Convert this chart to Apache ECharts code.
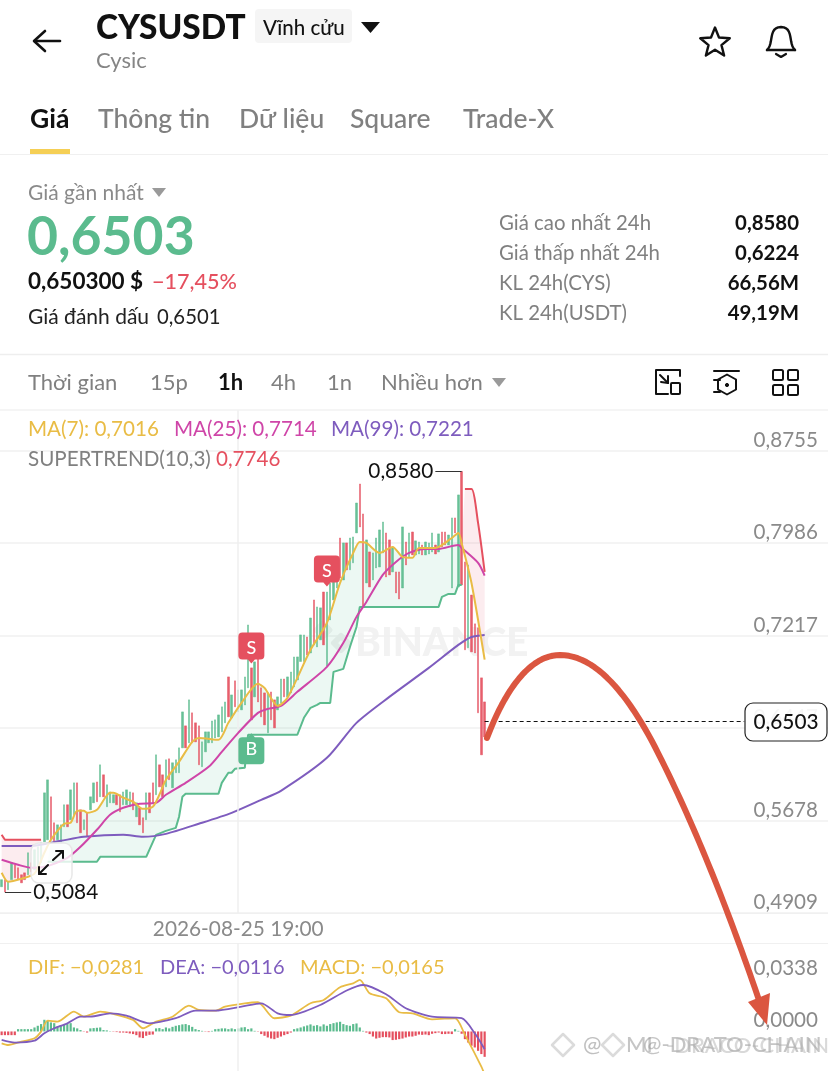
<!DOCTYPE html>
<html><head><meta charset="utf-8"><title>CYSUSDT</title>
<style>html,body{margin:0;padding:0;background:#fff}#c{width:828px;height:1071px}</style>
<script src="https://cdn.jsdelivr.net/npm/echarts@6/dist/echarts.min.js"></script></head>
<body><div id="c"></div>
<script>
// ---- candles, oldest first ----
const candleUp=[1,0,1,1,0,0,0,0,1,0,1,1,1,1,1,0,0,1,1,1,0,1,1,0,0,1,0,1,1,0,1,0,1,1,1,0,0,1,1,1,0,1,0,0,1,0,0,1,0,0,1,0,1,1,1,1,0,1,0,0,0,1,1,1,1,1,1,1,1,0,1,0,1,1,1,1,0,1,0,0,0,1,0,0,1,1,0,1,1,1,1,1,1,0,1,0,1,1,0,1,1,1,1,0,1,0,1,1,1,0,0,1,0,1,1,1,1,0,0,1,0,0,1,0,1,0,1,1,0,1,1,1,0,1,0,0,1,1,0,1,0,0,1,0,0,0,0,0];
const candleHigh=[.5186,.5186,.5169,.5327,.5310,.5285,.5227,.5243,.5410,.5327,.5435,.5460,.5493,.5908,.6016,.5875,.5659,.5642,.5642,.5809,.5809,.5933,.5991,.5991,.5767,.5684,.5742,.5875,.5991,.5999,.6141,.6058,.5975,.5916,.5892,.5892,.5892,.5916,.5933,.5916,.5908,.5825,.5784,.5701,.5908,.5908,.5991,.6224,.6141,.6058,.6183,.6191,.6158,.6183,.6282,.6581,.6465,.6681,.6573,.6490,.6465,.6332,.6415,.6415,.6506,.6515,.6556,.6623,.6664,.6872,.6722,.6839,.6764,.6764,.6872,.7304,.6947,.6997,.7030,.6781,.6739,.6739,.6747,.6681,.6706,.6855,.6855,.6872,.6913,.7038,.7038,.7221,.7221,.7204,.7362,.7512,.7454,.7446,.7578,.7578,.7653,.7678,.7786,.8027,.7986,.7986,.8027,.8036,.8318,.8476,.8227,.8011,.7911,.7903,.8027,.8094,.8160,.8069,.8011,.7944,.7745,.7745,.8119,.7994,.8069,.8077,.8003,.7994,.7969,.7994,.7986,.8069,.7969,.8061,.8077,.8077,.8052,.8194,.8194,.8385,.8580,.7828,.7803,.7553,.7313,.7280,.6864,.6664];
const candleLow=[.5127,.5084,.5103,.5186,.5202,.5186,.5160,.5186,.5227,.5252,.5269,.5285,.5327,.5501,.5518,.5518,.5501,.5518,.5501,.5626,.5626,.5684,.5725,.5659,.5576,.5601,.5543,.5767,.5825,.5834,.5875,.5875,.5792,.5825,.5825,.5809,.5750,.5809,.5809,.5792,.5767,.5709,.5642,.5576,.5684,.5742,.5825,.5892,.5958,.5875,.5958,.6017,.5950,.6075,.6075,.6282,.6282,.6324,.6324,.6332,.6141,.6125,.6249,.6324,.6324,.6365,.6373,.6415,.6490,.6540,.6531,.6623,.6581,.6598,.6639,.6781,.6515,.6706,.6664,.6540,.6473,.6407,.6515,.6448,.6598,.6656,.6706,.6706,.6739,.6789,.6847,.7000,.7000,.7055,.7071,.7138,.7121,.7180,.7138,.6963,.7346,.7512,.7611,.7695,.7678,.7762,.7762,.7820,.8069,.8119,.7454,.7653,.7620,.7678,.7778,.7786,.7903,.7703,.7720,.7745,.7570,.7520,.7611,.7803,.7870,.7886,.7886,.7894,.7886,.7886,.7894,.7911,.7894,.7911,.7953,.7969,.7969,.7611,.8069,.7620,.7636,.7097,.7114,.7080,.7071,.6573,.6224,.6373];
// ---- moving averages, supertrend, [candle index, price] read at the line's vertices ----
const ma7=[[0,.5244],[2,.5169],[6,.5194],[10,.5236],[13,.5410],[15,.5518],[19,.5651],[21,.5659],[23,.5759],[25,.5759],[26,.5742],[29,.5767],[33,.5908],[34,.5908],[37,.5867],[40,.5834],[43,.5775],[46,.5792],[48,.5892],[50,.6017],[54,.6166],[58,.6332],[60,.6365],[66,.6349],[69,.6490],[73,.6656],[78,.6814],[80,.6781],[84,.6631],[87,.6698],[94,.7097],[99,.7321],[103,.7653],[107,.7903],[109,.7994],[111,.7986],[115,.7903],[119,.7953],[122,.7870],[125,.7862],[127,.7944],[132,.7944],[137,.8027],[139,.8069],[140,.7986],[143,.7653],[147,.7016]];
const ma25=[[0,.5352],[5,.5310],[9,.5285],[13,.5293],[20,.5368],[24,.5459],[29,.5601],[33,.5725],[37,.5784],[42,.5817],[47,.5825],[50,.5892],[56,.5991],[63,.6124],[67,.6249],[72,.6407],[78,.6573],[81,.6606],[85,.6631],[90,.6748],[99,.6955],[104,.7155],[108,.7371],[111,.7495],[116,.7720],[120,.7828],[124,.7903],[129,.7936],[133,.7936],[139,.7969],[140,.7944],[145,.7820],[147,.7714]];
const ma99=[[0,.5467],[9,.5467],[18,.5509],[25,.5542],[37,.5559],[43,.5542],[50,.5567],[60,.5651],[70,.5742],[79,.5850],[85,.5925],[99,.6199],[108,.6490],[118,.6706],[130,.6947],[139,.7138],[143,.7204],[147,.7221]];
const trendUp=[[14,.5335],[29,.5335],[30,.5376],[44,.5376],[47,.5559],[50,.5592],[53,.5617],[54,.5709],[55,.5875],[56,.5900],[66,.5900],[67,.5991],[69,.6075],[70,.6075],[71,.6108],[74,.6116],[75,.6391],[90,.6391],[92,.6532],[94,.6615],[96,.6640],[97,.6656],[100,.6656],[101,.6914],[104,.6939],[106,.7121],[108,.7287],[109,.7454],[133,.7454],[134,.7537],[136,.7562],[138,.7562],[139,.7637],[140,.7637]];
const trendDownLeft=[[0,.5559],[1,.5518],[12,.5518]];
const trendDownRight=[[141,.8434],[143,.8434],[145,.8152],[147,.7746]];
// ---- MACD ----
const dif=[[0,-.0077],[2,-.0088],[6,-.0066],[10,-.0044],[12,-.0001],[14,.0070],[17,.0064],[22,.0129],[25,.0096],[30,.0129],[34,.0114],[40,.0075],[43,.0021],[47,.0064],[52,.0096],[57,.0168],[60,.0140],[65,.0135],[68,.0161],[74,.0183],[78,.0190],[83,.0086],[88,.0103],[94,.0183],[98,.0205],[103,.0287],[107,.0313],[109,.0335],[112,.0248],[117,.0216],[121,.0125],[125,.0118],[131,.0079],[138,.0086],[141,-.0022],[146,-.0228],[147,-.0281]];
const dea=[[0,-.0055],[4,-.0072],[10,-.0060],[13,-.0012],[16,.0021],[20,.0053],[24,.0096],[27,.0096],[33,.0118],[38,.0103],[45,.0053],[53,.0086],[59,.0135],[65,.0135],[73,.0161],[79,.0183],[84,.0118],[88,.0107],[97,.0172],[105,.0266],[110,.0302],[117,.0242],[123,.0151],[131,.0096],[140,.0086],[144,-.0012],[147,-.0116]];
const macdBars=[-.0024,-.0024,-.0024,-.0024,-.0024,.0015,.0015,.0015,.0015,.0015,.0026,.0037,.0048,.0076,.0069,.0059,.0054,.0033,.0041,.0048,.0048,.0054,.0026,.0020,.0009,-.0002,-.0007,.0020,.0022,.0024,.0026,.0009,.0007,.0002,-.0002,-.0004,-.0007,-.0007,-.0009,-.0013,-.0017,-.0024,-.0039,-.0043,-.0028,-.0022,-.0020,.0020,.0022,.0015,.0026,.0020,.0030,.0037,.0041,.0046,.0048,.0041,.0030,.0015,.0009,.0004,-.0002,-.0004,.0004,.0015,.0017,.0020,.0020,.0015,.0020,.0015,.0020,.0026,.0028,.0015,.0020,.0004,-.0002,-.0017,-.0028,-.0039,-.0046,-.0050,-.0041,-.0033,-.0024,-.0017,-.0007,.0015,.0020,.0026,.0033,.0039,.0046,.0037,.0041,.0033,.0046,.0037,.0048,.0054,.0059,.0063,.0048,.0041,.0037,.0048,.0052,.0026,.0004,-.0007,-.0017,-.0033,-.0046,-.0041,-.0037,-.0037,-.0039,-.0056,-.0054,-.0050,-.0046,-.0039,-.0033,-.0033,-.0028,-.0020,-.0022,-.0020,-.0024,-.0015,-.0011,-.0007,-.0017,-.0017,-.0015,-.0017,.0015,.0004,-.0015,-.0050,-.0072,-.0093,-.0104,-.0126,-.0147,-.0165];
// ---- axes ----
const priceTicks=[.4909,.5678,.6447,.7217,.7986,.8755];
const macdTicks=[0,.0338];
const categoryCount=252, dateTickIndex=72, dateTickLabel='2026-08-25 19:00';
const lastPrice=.6503, highMark=[140,.8580,'0,8580'], lowMark=[1,.5084,'0,5084'];
const sellMarks=[[76,.7113],[99,.7753]], buyMarks=[[76,.6274]];
// ---- text ----
const fontFamily='Lato,"Noto Sans",sans-serif';
const GREEN='#5BBB8E',RED='#E5505F',YEL='#E9BC45',MAG='#CF45A8',PUR='#7E5CBE',GREY='#858585';
const tabs=[['Giá',30],['Thông tin',98],['Dữ liệu',239],['Square',350],['Trade-X',463]];
const statLabels=['Giá cao nhất 24h','Giá thấp nhất 24h','KL 24h(CYS)','KL 24h(USDT)'];
const statValues=['0,8580','0,6224','66,56M','49,19M'];
const periods=[['Thời gian',28,0],['15p',150,0],['1h',218,1],['4h',271,0],['1n',327,0],['Nhiều hơn',381,0]];

const categories=Array.from({length:categoryCount},(_,i)=>i===dateTickIndex?dateTickLabel:String(i));
const comma=(v)=>v.toFixed(4).replace('.',',');
const candles=candleHigh.map((h,i)=>{const l=candleLow[i];return candleUp[i]?[l,h,l,h]:[h,l,l,h];});

function T(text,x,y,size,fill,weight,align,z){return {type:'text',x,y:y+1,z:z===undefined?50:z,silent:true,style:{text,fill,font:(weight||400)+' '+size+'px '+fontFamily,textAlign:align||'left',textVerticalAlign:'middle',align:align||'left',verticalAlign:'middle'}};}
function R(x,y,w,h,fill,r,stroke,z,lw){return {type:'rect',z:z||40,silent:true,shape:{x,y,width:w,height:h,r:r||0},style:{fill:fill||'none',stroke:stroke||null,lineWidth:lw||1}};}
function PP(d,stroke,lw,fill,z){return {type:'polyline',z:z||50,silent:true,shape:{points:d},style:{stroke:stroke||null,lineWidth:lw||0,fill:fill||'none',lineCap:'round',lineJoin:'round'}};}
function Poly(pts,fill,stroke,lw,z){return {type:'polygon',z:z===undefined?50:z,silent:true,shape:{points:pts},style:{fill:fill||'none',stroke:stroke||null,lineWidth:lw||0,lineJoin:'round'}};}
function L(x1,y1,x2,y2,c,w,z){return {type:'line',z:z||40,silent:true,shape:{x1,y1,x2,y2},style:{stroke:c,lineWidth:w||1,lineCap:'round'}};}
function Circ(cx,cy,r,stroke,lw,fill){return {type:'circle',z:50,silent:true,shape:{cx,cy,r},style:{stroke,lineWidth:lw,fill:fill||'none'}};}
function bez(p0,p1,p2,p3,n){const o=[];for(let k=0;k<=n;k++){const t=k/n,u=1-t;o.push([u*u*u*p0[0]+3*u*u*t*p1[0]+3*u*t*t*p2[0]+t*t*t*p3[0],u*u*u*p0[1]+3*u*u*t*p1[1]+3*u*t*t*p2[1]+t*t*t*p3[1]]);}return o;}
function starPts(cx,cy,R1,R2){const o=[];for(let k=0;k<10;k++){const a=-Math.PI/2+k*Math.PI/5,r=k%2?R2:R1;o.push([cx+r*Math.cos(a),cy+r*Math.sin(a)]);}return o;}
function diamond(cx,cy,r,stroke,z){return Poly([[cx,cy-r],[cx+r,cy],[cx,cy+r],[cx-r,cy]],null,stroke,2.5,z);}

const arrowCurve=bez([487,738],[505,690],[530,655],[560,655],24).concat(bez([560,655],[596,655],[628,695],[655,747],24).slice(1)).concat(bez([655,747],[695,825],[730,915],[760,1003],36).slice(1));

const gfx=[
  // header
  L(35,41,60,41,'#111',2.6),PP([[45,31],[34,41],[45,51]],'#111',2.6),
  T('CYSUSDT',96,27,33.4,'#111',900),
  R(255,9,97,34,'#F5F5F5',4),T('Vĩnh cửu',263,27,20.5,'#111',500),
  Poly([[361,22],[380,22],[370.5,33]],'#111'),
  T('Cysic',96,60,22,GREY),
  Poly(starPts(715,43,15.5,6.8),null,'#111',2.4),
  PP(bez([767,50],[774,44],[768,27],[781,27],12).concat(bez([781,27],[794,27],[788,44],[795,50],12)),'#111',2.4),L(767,50,795,50,'#111',2.4),PP([[776,54],[781,57],[786,54]],'#111',2.2),
  // tabs
  ...tabs.map((t,i)=>T(t[0],t[1],118,26.5,i?'#808080':'#111',i?500:700)),
  R(30,149,40,5,'#F5CF55'),L(0,154.5,828,154.5,'#F0F0F0',1),
  // price panel
  T('Giá gần nhất',28,192,21,'#8A8A8A'),Poly([[152,188],[166,188],[159,197]],'#9A9A9A'),
  T('0,6503',27,237,53.5,GREEN,700),
  T('0,650300 $',28,281,22.5,'#111',700),T('−17,45%',152,281,21.6,RED,500),
  T('Giá đánh dấu',28,316,21,'#222'),T('0,6501',157,316,20.3,'#222'),
  ...statLabels.map((s,i)=>T(s,499,222+30*i,20.4,'#808080')),
  ...statValues.map((s,i)=>T(s,799,222+30*i,20.4,'#111',700,'right')),
  L(0,354.5,828,354.5,'#EEEEEE',1.5),L(0,410,828,410,'#F2F2F2',1.5),
  // toolbar
  ...periods.map(p=>T(p[0],p[1],382,22,p[2]?'#111':'#808080',p[2]?700:400)),
  Poly([[492,378],[506,378],[499,387]],'#9A9A9A'),
  PP([[680,376],[680,370],[656,370],[656,394],[668,394]],'#111',2),R(671,383,9,11,null,1,'#111',50,2),PP([[660,375],[668,383]],'#111',2),PP([[661,382],[668,383],[668,376]],'#111',2),
  L(714,371,739,371,'#111',2),L(714,380,720,380,'#111',2),L(714,392,720,392,'#111',2),Poly([[727,374.5],[736,379.5],[736,389.5],[727,394.5],[718,389.5],[718,379.5]],null,'#111',2),Circ(727,385,1.6,'#111',1,'#111'),
  R(773,370,10,10,null,1.5,'#111',50,2),R(788,370,10,10,null,1.5,'#111',50,2),R(773,385,10,10,null,1.5,'#111',50,2),R(788,385,10,10,null,1.5,'#111',50,2),
  // legends
  T('MA(7): '+comma(.7016),28,428,20.6,YEL),T('MA(25): '+comma(.7714),174,428,20.6,MAG),T('MA(99): '+comma(.7221),331,428,20.6,PUR),
  T('SUPERTREND(10,3)',28,458,20.6,'#808080'),T(comma(.7746),216,458,20.6,RED),
  T('DIF: −0,0281',28,967,20,YEL),T('DEA: −0,0116',160,967,20,PUR),T('MACD: −0,0165',300,967,20,YEL),
  // exchange watermark, under the marks
  T('BINANCE',355,642,39,'#F2F2F2',900,'left',0),
  Poly([[334,643],[341,636],[348,643],[341,650]],null,'#F0F0F0',6,0),
  Poly([[316,630],[323,623],[330,630],[323,637]],null,'#F2F2F2',5,0),
  // expand button over the chart
  R(31,843,41,40,'rgba(255,255,255,.8)',8,'#E8E8E8',45,1.5),
  L(53,860,63,851,'#111',2,46),PP([[56,851],[63,851],[63,858]],'#111',2,null,46),
  L(39,874,48,865,'#111',2,46),PP([[39,867],[39,874],[46,874]],'#111',2,null,46),
  // last price tag
  R(745,703,82,38,'rgba(255,255,255,.92)',8,'#222',60,1.2),T('0,6503',786,721,20.8,'#111',500,'center',61),
  // hand drawn arrow
  PP(arrowCurve,'#DB5640',6,null,70),Poly([[748,1002],[770,993],[767,1025]],'#DB5640',null,0,71),
  // bottom credit
  diamond(563,1045,11,'rgba(190,190,190,.55)',72),diamond(613,1045,11,'rgba(190,190,190,.55)',72),
  T('@',583,1044,22,'rgba(150,150,150,.6)',500,'left',72),
  T('MI',626,1044,22,'rgba(150,150,150,.55)',500,'left',72),
  T('@-DRATO-CHAIN',643,1044,22,'rgba(150,150,150,.55)',500,'left',72),
  T('-DRACO-CHAIN',666,1045,22,'rgba(170,170,170,.45)',500,'left',72)
];

function subset(arr,a,b){return arr.filter(p=>p[0]>=a&&p[0]<=b);}
function band(api,upper,lower,fill){const pts=upper.concat(lower.slice().reverse()).map(p=>api.coord(p));return {type:'polygon',shape:{points:pts},style:{fill}};}

const lineBase={type:'line',showSymbol:false,symbol:'none',silent:true,connectNulls:true};
const smoothLine={...lineBase,smooth:.25};
const axisFont={color:'#8A8A8A',fontSize:20.6,fontFamily};
const pinDown='path://M4 0H22A4 4 0 0 1 26 4V23A4 4 0 0 1 22 27H16.5L13 31L9.5 27H4A4 4 0 0 1 0 23V4A4 4 0 0 1 4 0Z';
const pinUp='path://M4 4H9.5L13 0L16.5 4H22A4 4 0 0 1 26 8V27A4 4 0 0 1 22 31H4A4 4 0 0 1 0 27V8A4 4 0 0 1 4 4Z';
const badge=(c,sym,text,col)=>({coord:c,symbol:sym,symbolSize:[26,31],itemStyle:{color:col},label:{show:true,formatter:text,color:'#fff',fontSize:18,fontWeight:500,fontFamily,position:'inside'}});
const pointerLine=(m,dir)=>[{coord:[m[0],m[1]]},{coord:[m[0]+dir,m[1]],label:{show:true,position:'end',formatter:m[2],color:'#111',fontSize:20.8,fontFamily,distance:2}}];

const option={
  animation:false,backgroundColor:'#fff',
  graphic:{elements:gfx},
  grid:[{left:0,right:0,top:410,height:503,containLabel:false},{left:0,right:0,top:943,height:128}],
  xAxis:[
    {type:'category',gridIndex:0,data:categories,boundaryGap:true,axisLine:{show:true,lineStyle:{color:'#F0F0F0'}},axisTick:{show:false},splitLine:{show:false},
     axisLabel:{show:true,interval:(i)=>i===dateTickIndex,formatter:(v)=>v===dateTickLabel?v:'',color:'#8A8A8A',fontSize:20.8,fontFamily,margin:6,hideOverlap:false}},
    {type:'category',gridIndex:1,data:categories,boundaryGap:true,axisLine:{show:true,onZero:false,lineStyle:{color:'#F0F0F0'}},position:'top',axisTick:{show:false},axisLabel:{show:false},splitLine:{show:false}}
  ],
  yAxis:[
    {type:'value',gridIndex:0,position:'right',min:.4909,max:.9091,axisLine:{show:false},axisTick:{show:false,customValues:priceTicks},
     axisLabel:{inside:true,margin:10,customValues:priceTicks,formatter:comma,verticalAlign:'bottom',padding:[0,0,0,0],...axisFont,showMinLabel:true,showMaxLabel:true},
     splitLine:{show:true,lineStyle:{color:'#F1F1F1',width:1.5}}},
    {type:'value',gridIndex:1,position:'right',min:-.0257,max:.0575,axisLine:{show:false},axisTick:{show:false,customValues:macdTicks},
     axisLabel:{inside:true,margin:10,customValues:macdTicks,formatter:comma,verticalAlign:'bottom',padding:[0,0,1,0],...axisFont},
     splitLine:{show:false}}
  ],
  series:[
    {type:'custom',xAxisIndex:0,yAxisIndex:0,silent:true,z:1,data:[[0,.6]],clip:true,
     renderItem:(params,api)=>({type:'group',children:[
       band(api,subset(ma7,15,139),trendUp,'rgba(72,182,142,.10)'),
       band(api,trendDownLeft,subset(ma7,0,13),'rgba(232,80,105,.11)'),
       band(api,trendDownRight,subset(ma7,140,147),'rgba(232,80,105,.11)')
     ]})},
    {name:'K',type:'candlestick',xAxisIndex:0,yAxisIndex:0,z:2,silent:true,data:candles,barWidth:1.9,
     itemStyle:{color:GREEN,color0:RED,borderColor:GREEN,borderColor0:RED,borderWidth:.5,opacity:.92},
     markLine:{silent:true,symbol:'none',animation:false,label:{show:false},data:[
       {xAxis:dateTickIndex,lineStyle:{color:'#EFEFEF',width:1.5,type:'solid'}},
       [{coord:[147,lastPrice],lineStyle:{color:'#111',type:[4,3],width:1}},{coord:[226,lastPrice]}],
       [{...pointerLine(highMark,-8)[0],lineStyle:{color:'#333',width:1,type:'solid'}},pointerLine(highMark,-8)[1]],
       [{...pointerLine(lowMark,8)[0],lineStyle:{color:'#333',width:1,type:'solid'}},pointerLine(lowMark,8)[1]]
     ]},
     markPoint:{silent:true,animation:false,data:[...sellMarks.map(c=>badge(c,pinDown,'S',RED)),...buyMarks.map(c=>badge(c,pinUp,'B',GREEN))]}},
    {...lineBase,name:'ST up',xAxisIndex:0,yAxisIndex:0,z:3,data:trendUp,lineStyle:{color:GREEN,width:2}},
    {...lineBase,name:'ST dn1',xAxisIndex:0,yAxisIndex:0,z:3,data:trendDownLeft,lineStyle:{color:RED,width:2}},
    {...smoothLine,name:'ST dn2',xAxisIndex:0,yAxisIndex:0,z:3,data:trendDownRight,lineStyle:{color:RED,width:2}},
    {...smoothLine,name:'MA99',xAxisIndex:0,yAxisIndex:0,z:4,data:ma99,lineStyle:{color:PUR,width:2}},
    {...smoothLine,name:'MA25',xAxisIndex:0,yAxisIndex:0,z:5,data:ma25,lineStyle:{color:MAG,width:2}},
    {...smoothLine,name:'MA7',xAxisIndex:0,yAxisIndex:0,z:6,data:ma7,lineStyle:{color:YEL,width:2}},
    {type:'bar',name:'MACD',xAxisIndex:1,yAxisIndex:1,z:2,silent:true,barWidth:2.2,data:macdBars,itemStyle:{color:(p)=>p.value>=0?GREEN:RED}},
    {...smoothLine,name:'DIF',xAxisIndex:1,yAxisIndex:1,z:3,data:dif,lineStyle:{color:YEL,width:1.8}},
    {...smoothLine,name:'DEA',xAxisIndex:1,yAxisIndex:1,z:4,data:dea,lineStyle:{color:PUR,width:1.8},
     markLine:{silent:true,symbol:'none',animation:false,label:{show:false},data:[{xAxis:dateTickIndex,lineStyle:{color:'#EFEFEF',width:1.5,type:'solid'}}]}}
  ]
};
const chart=echarts.init(document.getElementById('c'));
chart.setOption(option);
</script></body></html>
